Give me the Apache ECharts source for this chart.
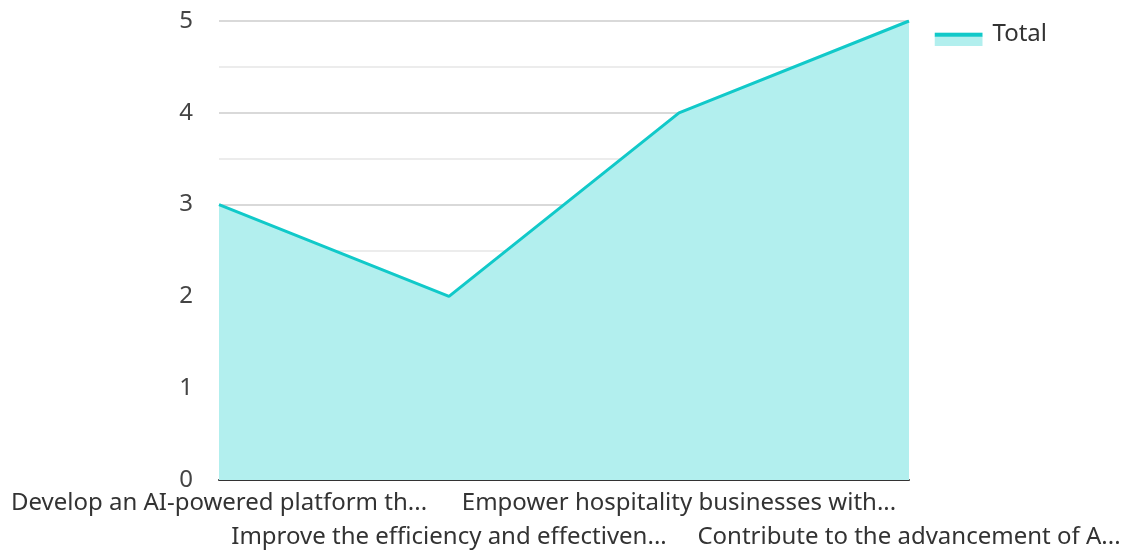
<!DOCTYPE html>
<html><head><meta charset="utf-8">
<script src="https://cdn.jsdelivr.net/npm/echarts@6/dist/echarts.min.js"></script>
<style>html,body{margin:0;padding:0;background:#fff}#c{width:1128px;height:551px}</style>
</head><body><div id="c"></div>
<script>
var categories = [
  "Develop an AI-powered platform th...",
  "Improve the efficiency and effectiven...",
  "Empower hospitality businesses with...",
  "Contribute to the advancement of A..."
];
var totalValues = [3, 2, 4, 5];
var seriesName = "Total";

var lineColor = '#11c9c9';
var areaColor = '#b2efee';
var iconSvg = '<svg xmlns="http://www.w3.org/2000/svg" width="53" height="24" viewBox="0 0 53 24">' +
  '<rect x="0" y="14" width="48" height="10" fill="' + areaColor + '"/>' +
  '<rect x="0" y="10.7" width="48" height="4" fill="' + lineColor + '"/></svg>';
var iconUrl = 'image://data:image/svg+xml;charset=utf-8,' + encodeURIComponent(iconSvg);

var chart = echarts.init(document.getElementById('c'));
chart.setOption({
  animation: false,
  textStyle: { fontFamily: 'Noto Sans' },
  grid: { left: 219, right: 219, top: 21, bottom: 71, containLabel: false, outerBoundsMode: 'none' },
  legend: {
    show: true, right: 76, top: 17, itemWidth: 53, itemHeight: 24, itemGap: 10,
    icon: iconUrl,
    textStyle: { fontSize: 24, color: '#333', fontFamily: 'Noto Sans' },
    data: [seriesName]
  },
  xAxis: {
    type: 'category', data: categories, boundaryGap: false,
    axisLine: { lineStyle: { color: '#333', width: 2 } },
    axisTick: { show: false },
    axisLabel: {
      interval: 0, fontSize: 24, color: '#333', margin: 6, lineHeight: 34,
      fontFamily: 'Noto Sans', hideOverlap: false,
      formatter: function (v, i) { return i % 2 ? '\n' + v : v; }
    }
  },
  yAxis: {
    type: 'value', min: 0, max: 5, interval: 1,
    axisLine: { show: false }, axisTick: { show: false },
    axisLabel: { fontSize: 24, color: '#444', margin: 26, fontFamily: 'Noto Sans' },
    splitLine: { lineStyle: { color: '#ccc', width: 1.5 } },
    minorTick: { show: false, splitNumber: 2 },
    minorSplitLine: { show: true, lineStyle: { color: '#e6e6e6', width: 1.5 } }
  },
  series: [{
    name: seriesName, type: 'line', data: totalValues,
    showSymbol: false, symbol: 'none',
    lineStyle: { color: lineColor, width: 3 },
    itemStyle: { color: lineColor },
    areaStyle: { color: areaColor, opacity: 1 }
  }]
});
</script></body></html>
